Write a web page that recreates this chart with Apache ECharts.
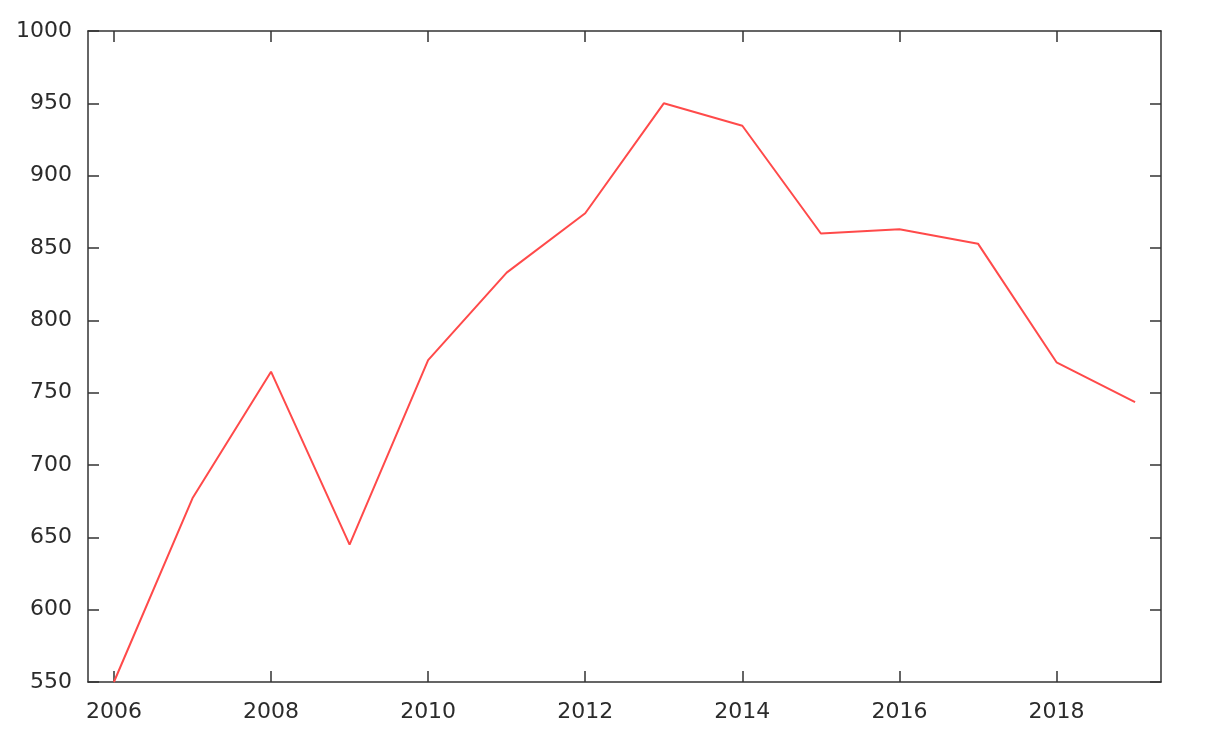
<!DOCTYPE html>
<html>
<head>
<meta charset="utf-8">
<script src="https://cdn.jsdelivr.net/npm/echarts@6/dist/echarts.min.js"></script>
<style>
html,body{margin:0;padding:0;background:#fff;}
#chart{width:1206px;height:740px;}
</style>
</head>
<body>
<div id="chart"></div>
<script>
const years = [2006,2007,2008,2009,2010,2011,2012,2013,2014,2015,2016,2017,2018,2019];
const values = [550,677,764.5,645,772.5,833,874,950,934.5,860,863,853,771,743.5];
const xTicks = [2006,2008,2010,2012,2014,2016,2018];
const yTicks = [550,600,650,700,750,800,850,900,950,1000];

const chart = echarts.init(document.getElementById('chart'), null, {renderer:'canvas'});
const axisColor = '#333';
const font = 'DejaVu Sans';
const common = {
  axisLine:{show:true,onZero:false,lineStyle:{color:axisColor,width:1.5}},
  splitLine:{show:false}
};
chart.setOption({
  animation:false,
  backgroundColor:'#fff',
  grid:{left:88,top:31,right:45,bottom:58,containLabel:false},
  xAxis:[{
    type:'value', min:2005.67, max:2019.33, position:'bottom',
    ...common,
    axisTick:{show:true,inside:true,length:11,customValues:xTicks,lineStyle:{color:axisColor,width:1.5}},
    axisLabel:{show:true,customValues:xTicks,margin:19,color:'#2b2b2b',fontFamily:font,fontSize:22,formatter:v=>String(v)}
  },{
    type:'value', min:2005.67, max:2019.33, position:'top',
    ...common,
    axisTick:{show:true,inside:true,length:11,customValues:xTicks,lineStyle:{color:axisColor,width:1.5}},
    axisLabel:{show:false}
  }],
  yAxis:[{
    type:'value', min:550, max:1000, interval:50, position:'left',
    ...common,
    axisTick:{show:true,inside:true,length:11,lineStyle:{color:axisColor,width:1.5}},
    axisLabel:{show:true,margin:16,color:'#2b2b2b',fontFamily:font,fontSize:22,formatter:v=>String(v)}
  },{
    type:'value', min:550, max:1000, interval:50, position:'right',
    ...common,
    axisTick:{show:true,inside:true,length:11,lineStyle:{color:axisColor,width:1.5}},
    axisLabel:{show:false}
  }],
  series:[{
    type:'line',
    xAxisIndex:0, yAxisIndex:0,
    data: years.map((y,i)=>[y,values[i]]),
    showSymbol:false, symbol:'none',
    lineStyle:{color:'#ff4a4a',width:2},
    clip:true
  }]
});
</script>
</body>
</html>
